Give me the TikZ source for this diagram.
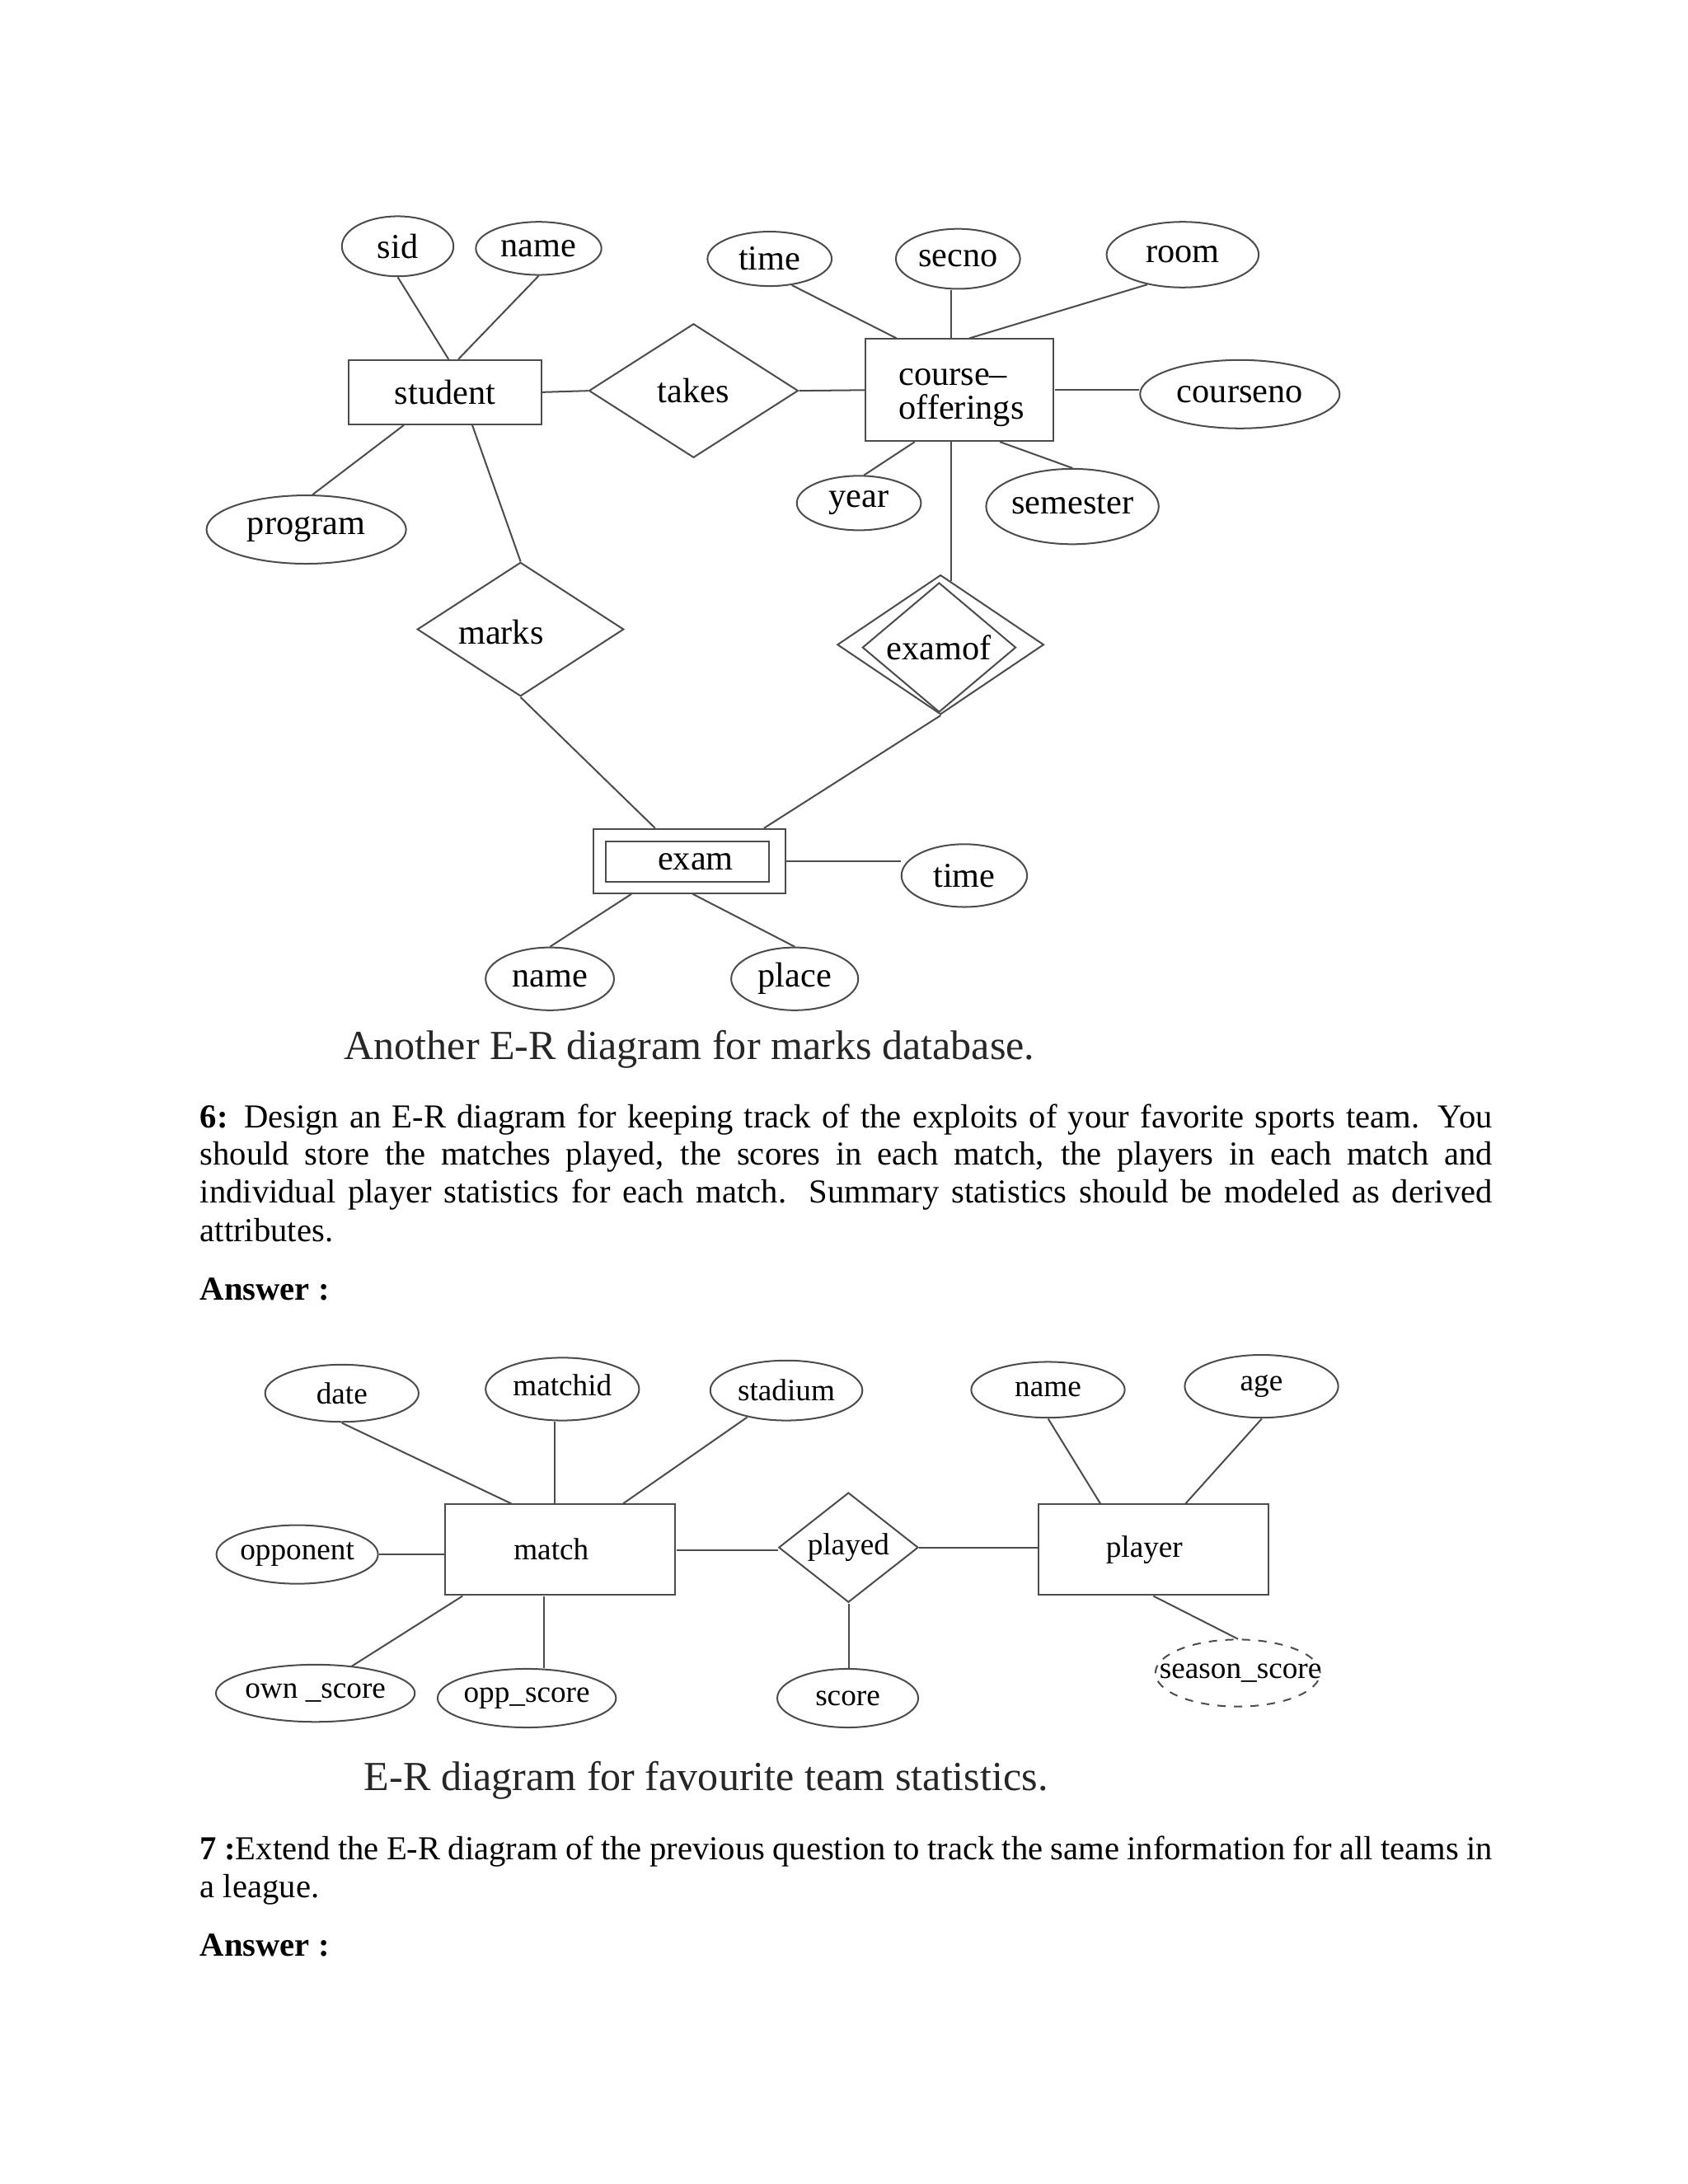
\documentclass[tikz,border=0pt]{standalone}
\usepackage{fontspec}
\setmainfont{Liberation Serif}
\usetikzlibrary{shapes.geometric,calc}
\begin{document}
\begin{tikzpicture}[x=0.5pt,y=-0.5pt,scale=1.012,
  every node/.append style={transform shape},
  ln/.style={draw=black!70, line width=0.6pt},
  attr/.style={ellipse, draw=black!70, line width=0.6pt, inner sep=0pt, font=\fontsize{12.5}{14}\selectfont},
  attrb/.style={attr, font=\fontsize{11}{13}\selectfont},
  ent/.style={rectangle, draw=black!70, line width=0.6pt, inner sep=0pt, font=\fontsize{12.5}{14}\selectfont},
  entb/.style={ent, font=\fontsize{11}{13}\selectfont},
  rel/.style={diamond, draw=black!70, line width=0.6pt, inner sep=0pt, font=\fontsize{12.5}{14}\selectfont},
  relb/.style={rel, font=\fontsize{11}{13}\selectfont},
  body/.style={anchor=base west, inner sep=0pt, font=\fontsize{12}{14}\selectfont},
  capt/.style={anchor=base, inner sep=0pt, font=\fontsize{14.8}{17}\selectfont, text=black!85}
]
\useasboundingbox[fill=white] (0,0) rectangle (1209.5,1565.2);

% ---------------- Diagram 1 ----------------
\node[attr, minimum width=40pt, minimum height=21.5pt] (sid) at (285,176.5) {sid};
\node[attr, minimum width=45pt, minimum height=19pt] (nameA) at (386,178) {name};
\node[attr, minimum width=44.5pt, minimum height=19.5pt] (timeA) at (551.5,185.5) {time};
\node[attr, minimum width=44.5pt, minimum height=21.5pt] (secno) at (686.5,185.5) {secno};
\node[attr, minimum width=54.5pt, minimum height=23.5pt] (room) at (847.5,182.5) {room};
\node[attr, minimum width=71.5pt, minimum height=24.5pt] (courseno) at (888.5,282.5) {courseno};
\node[attr, minimum width=71.5pt, minimum height=24.5pt] (program) at (219.5,379.5) {program};
\node[attr, minimum width=44.5pt, minimum height=19.5pt] (year) at (615.5,360.5) {year};
\node[attr, minimum width=61.5pt, minimum height=27pt] (semester) at (768.5,363) {\raisebox{1.5pt}{semester}};
\node[attr, minimum width=45pt, minimum height=22.5pt] (timeB) at (691,627.5) {time};
\node[attr, minimum width=46pt, minimum height=22.5pt] (nameB) at (394,701.5) {name};
\node[attr, minimum width=45.5pt, minimum height=22.5pt] (place) at (569.5,701.5) {place};

\node[ent, minimum width=69pt, minimum height=23pt] (student) at (319,281) {student};
\node[ent, minimum width=67.5pt, minimum height=36.5pt] (co) at (687.5,279.5) {};
\node[font=\fontsize{12.5}{14}\selectfont, inner sep=0pt, align=left] (cot) at (689,285) {course–\\[-2pt]offerings};
\node[rel, minimum width=75pt, minimum height=48pt] (takes) at (497,280) {\raisebox{-2pt}{takes}};
\node[rel, minimum width=74pt, minimum height=48pt] (marks) at (373,451) {};
\node[font=\fontsize{12.5}{14}\selectfont, inner sep=0pt] (markst) at (359,453) {marks};
\node[rel, minimum width=74pt, minimum height=50pt] (examof) at (674,462) {};
\node[rel, minimum width=55pt, minimum height=37pt] (examofin) at (673,464) {examof};
\node[ent, minimum width=69pt, minimum height=23pt] (exam) at (494,617) {};
\node[ent, minimum width=58.5pt, minimum height=14.5pt] (examin) at (492.5,617.5) {\hspace*{6pt}\raisebox{-1.5pt}{exam}};

\draw[ln] (sid.south) -- ($(student.north west)+(72,0)$);
\draw[ln] (nameA.south) -- ($(student.north west)+(79,0)$);
\draw[ln] (program.80) -- ($(student.south west)+(40,0)$);
\draw[ln] ($(student.south west)+(89,0)$) -- (marks.north);
\draw[ln] (student.east) -- (takes.west);
\draw[ln] (takes.east) -- (co.west);
\draw[ln] (timeA.-50) -- ($(co.north west)+(23,0)$);
\coordinate (coTop) at ($(co.north west)+(62,0)$);
\draw[ln] (secno.south -| coTop) -- (coTop);
\draw[ln] (room.-140) -- ($(co.north west)+(75,0)$);
\draw[ln] (co.east) -- (co.east -| courseno.west);
\draw[ln] ($(co.south west)+(36,0)$) -- (year.80);
\draw[ln] ($(co.south west)+(97,0)$) -- (semester.north);
\coordinate (coBot) at ($(co.south west)+(62,0)$);
\draw[ln] (coBot) -- ($(coBot |- examof.north)+(0,5)$);
\draw[ln] (marks.south) -- ($(exam.north west)+(45,0)$);
\draw[ln] (examof.south) -- ($(exam.north west)+(123,0)$);
\draw[ln] (exam.east) -- (exam.east -| timeB.west);
\draw[ln] ($(exam.south west)+(28,0)$) -- (nameB.north);
\draw[ln] ($(exam.south west)+(72,0)$) -- (place.north);

\node[capt] (cap1) at (494,759) {Another E-R diagram for marks database.};

% ---------------- Text 6 ----------------
\node[body] (p6a) at (143,808) {\makebox[463pt][s]{\textbf{6:} Design an E-R diagram for keeping track of the exploits of your favorite sports team. You}};
\node[body] (p6b) at (143,835) {\makebox[463pt][s]{should store the matches played, the scores in each match, the players in each match and}};
\node[body] (p6c) at (143,862) {\makebox[463pt][s]{individual player statistics for each match. Summary statistics should be modeled as derived}};
\node[body] (p6d) at (143,890) {attributes.};
\node[body] (ans6) at (143,932) {\textbf{Answer :}};

% ---------------- Diagram 2 ----------------
\node[attrb, minimum width=55pt, minimum height=20.5pt] (date) at (245,998.5) {date};
\node[attrb, minimum width=55pt, minimum height=22.5pt] (matchid) at (403,995.5) {\raisebox{3pt}{matchid}};
\node[attrb, minimum width=54.5pt, minimum height=21.5pt] (stadium) at (563.5,996.5) {stadium};
\node[attrb, minimum width=55pt, minimum height=20pt] (nameC) at (751,996) {name};
\node[attrb, minimum width=55pt, minimum height=22.5pt] (age) at (904,993.5) {age};
\node[attrb, minimum width=55pt, minimum height=21pt] (opponent) at (213,1114) {opponent};
\node[attrb, minimum width=56pt, minimum height=20.5pt] (own) at (226,1213.5) {own \_score};
\node[attrb, minimum width=55.5pt, minimum height=21pt] (opp) at (377.5,1217) {opp\_score};
\node[attrb, minimum width=50.5pt, minimum height=21pt] (score) at (607.5,1217) {score};
\node[attrb, dashed, dash pattern=on 3pt off 3pt, minimum width=59pt, minimum height=24pt] (season) at (887,1199) {};
\node[font=\fontsize{11}{13}\selectfont, inner sep=0pt] (seasont) at (889,1199) {season\_score};

\node[entb, minimum width=82.5pt, minimum height=32.5pt] (match) at (401.5,1110.5) {\hspace*{-6.5pt}match};
\node[entb, minimum width=82.5pt, minimum height=32.5pt] (player) at (826.5,1110.5) {\hspace*{-6.5pt}player};
\node[relb, minimum width=50pt, minimum height=35pt] (played) at (608,1109) {played};

\draw[ln] (date.south) -- ($(match.north west)+(48,0)$);
\coordinate (mTop) at ($(match.north west)+(79,0)$);
\draw[ln] (matchid.south -| mTop) -- (mTop);
\draw[ln] (stadium.-146) -- ($(match.north west)+(128,0)$);
\draw[ln] (opponent.east) -- (opponent.east -| match.west);
\draw[ln] (own.37) -- ($(match.south west)+(13,0)$);
\coordinate (mBot) at ($(match.south west)+(71,0)$);
\draw[ln] (mBot) -- (mBot |- opp.north);
\draw[ln] (match.east) -- (match.east -| played.west);
\draw[ln] (played.east) -- (played.east -| player.west);
\draw[ln] (played.south) -- (played.south |- score.north);
\draw[ln] (nameC.south) -- ($(player.north west)+(45,0)$);
\draw[ln] (age.south) -- ($(player.north west)+(106,0)$);
\draw[ln] ($(player.south west)+(83,0)$) -- (season.north);

\node[capt] (cap2) at (506,1283) {E-R diagram for favourite team statistics.};

% ---------------- Text 7 ----------------
\node[body] (p7a) at (143,1333) {\makebox[463pt][s]{\textbf{7 :}Extend the E-R diagram of the previous question to track the same information for all teams in}};
\node[body] (p7b) at (143,1360) {a league.};
\node[body] (ans7) at (143,1402) {\textbf{Answer :}};
\end{tikzpicture}
\end{document}
